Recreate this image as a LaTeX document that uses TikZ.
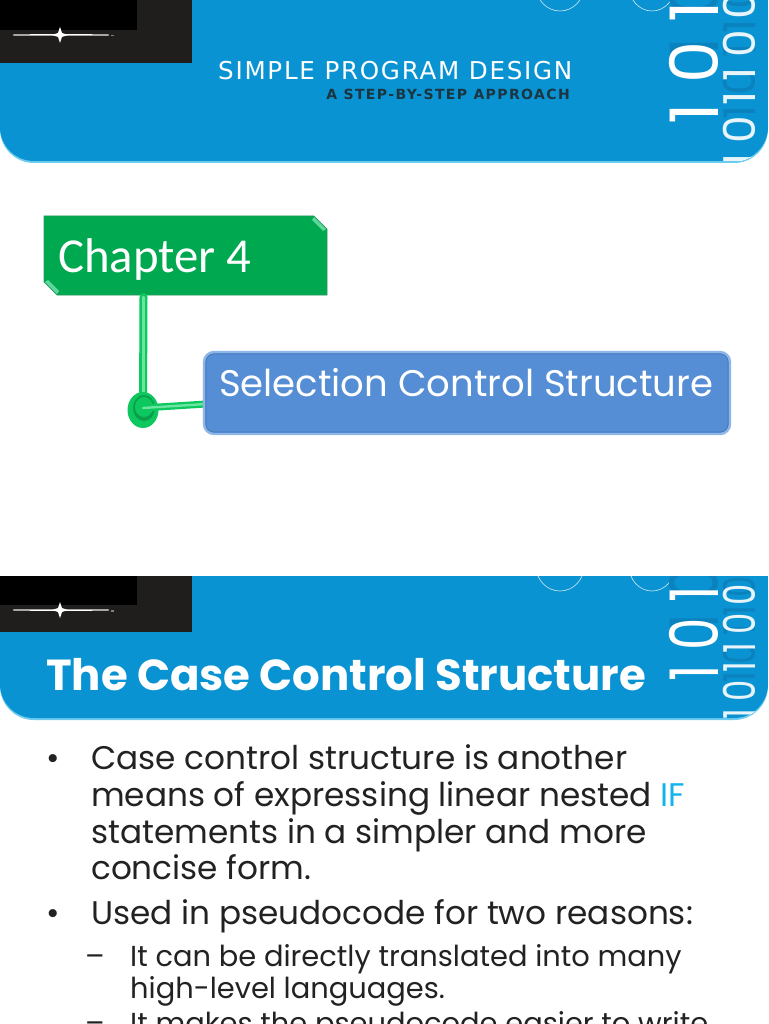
\documentclass[tikz,border=0pt]{standalone}
\usepackage{fontspec}
\setmainfont{Poppins}
\newfontfamily\calib{Carlito}
\newfontfamily\digitfont[LetterSpace=29]{Poppins}
\newfontfamily\smalldigit[LetterSpace=23]{Poppins}
\newfontfamily\techno[LetterSpace=7]{DejaVu Sans}
\newfontfamily\technosub[LetterSpace=10]{DejaVu Sans Bold}
\usetikzlibrary{calc}
\definecolor{banner}{HTML}{0A93D2}
\definecolor{bannerdark}{HTML}{1F1E1D}
\definecolor{bannerlight}{HTML}{6CCBEE}
\definecolor{digitshade}{HTML}{0A82BE}
\definecolor{chapgreen}{HTML}{00A84F}
\definecolor{chaplight}{HTML}{5FD69A}
\definecolor{linkgreen}{HTML}{0CC85E}
\definecolor{linklight}{HTML}{6BE59F}
\definecolor{boxblue}{HTML}{558ED5}
\definecolor{boxedge}{HTML}{8FB6E8}
\definecolor{ifcyan}{HTML}{12B5EA}
\definecolor{bodyink}{HTML}{222222}
\tikzset{
  bodytext/.style={anchor=base west,inner sep=0pt,text=bodyink,font=\fontsize{32.7}{32.7}\selectfont},
  subtext/.style={anchor=base west,inner sep=0pt,text=bodyink,font=\fontsize{28.9}{28.9}\selectfont},
  bigdigits/.style={anchor=base west,inner sep=0pt,rotate=90,font=\fontsize{67}{67}\selectfont\digitfont},
  smalldigits/.style={anchor=base west,inner sep=0pt,rotate=90,font=\fontsize{44}{44}\selectfont\smalldigit},
  linkouter/.style={line width=8pt,linkgreen,line cap=round},
  linkinner/.style={line width=2.4pt,linklight,line cap=round}
}
% #1 top, #2 bottom, #3 dark bottom, #4 black bottom, #5 star y, #6 circle y, #7 digit squeeze, #8 big start, #9 small start
\newcommand{\headerband}[9]{%
  \begin{scope}
    \clip (0,#1) rectangle (768,#2);
    \fill[bannerlight,rounded corners=34pt] (0,#1-60) rectangle (768,#2);
    \clip[rounded corners=34pt] (0,#1-60) rectangle (768,#2-2);
    \fill[banner] (0,#1) rectangle (768,#2);
    \fill[bannerdark] (0,#1) rectangle (192,#3);
    \fill[black] (0,#1) rectangle (136.5,#4);
    \draw[line width=2.6pt,gray!70,line cap=round] (14,#5) -- (108,#5);
    \draw[line width=1pt,white,line cap=round] (30,#5) -- (92,#5);
    \fill[white] (60,#5-8) -- (62,#5-2) -- (68,#5) -- (62,#5+2) -- (60,#5+8) -- (58,#5+2) -- (52,#5) -- (58,#5-2) -- cycle;
    \fill[gray] (111,#5) rectangle (114,#5+1.5);
    \draw[white!80!banner,line width=.6pt] (560,#6) ellipse[x radius=24,y radius=25];
    \draw[white!80!banner,line width=.6pt] (652,#6) ellipse[x radius=23,y radius=25];
    \node[smalldigits,text=digitshade] (shadesmall#1) at (755,#9-48*#7) {\scalebox{#7}[1]{101100}};
    \node[bigdigits,text=digitshade] (shadebig#1) at (718,#8-66*#7) {\scalebox{#7}[1]{1011}};
    \node[smalldigits,text=white!90!banner] (small#1) at (755,#9) {\scalebox{#7}[1]{101100}};
    \node[bigdigits,text=white] (big#1) at (718,#8) {\scalebox{#7}[1]{1011}};
  \end{scope}}
\begin{document}
\begin{tikzpicture}[x=1pt,y=-1pt]
\useasboundingbox (0,0) rectangle (768,1024);
\fill[white] (0,0) rectangle (768,1024);
\begin{scope}
\clip (0,0) rectangle (768,1024);
\headerband{0}{163}{63}{30}{35}{-14}{1}{125}{168}
\headerband{576}{720}{632}{605}{610}{566}{.77}{682}{720}

\node[anchor=base west,inner sep=0pt,text=white,font=\fontsize{24.6}{24.6}\selectfont\techno] (progtitle) at (218,80) {SIMPLE PROGRAM DESIGN};
\node[anchor=base east,inner sep=0pt,text=bannerdark!80!banner,font=\fontsize{14}{14}\selectfont\technosub] (progsub) at (570,100) {A STEP-BY-STEP APPROACH};

% chapter box
\draw[draw=chapgreen!70!gray,fill=chapgreen,line width=.6pt] (44,216) -- (314,216) -- (327,229) -- (327,295) -- (57,295) -- (44,282) -- cycle;
\fill[chaplight] (314,217) -- (326,229) -- (323,231) -- (312,220) -- cycle;
\fill[chaplight] (45,282) -- (57,294) -- (59,291) -- (48,280) -- cycle;
\coordinate (chapfoot) at (143.5,297);
\node[anchor=base west,inner sep=0pt,text=white,font=\fontsize{48.8}{48.8}\selectfont\calib] (chapter) at (58,272) {Chapter 4};

% connector
\coordinate (joint) at (143,408);
\coordinate (boxleft) at (206,404);
\draw[linkouter] (chapfoot) -- (joint);
\draw[linkinner] (chapfoot) -- (143.5,392);
\fill[linkgreen] (143,410) ellipse[x radius=15.5,y radius=18];
\fill[linkgreen!80!black] (144,408) ellipse[x radius=11,y radius=13];
\fill[linkgreen] (144,407) ellipse[x radius=9,y radius=10];
\draw[linkouter,line width=7pt] (joint) -- (boxleft);
\draw[linkinner] (joint) -- (boxleft);

% selection box
\draw[draw=boxedge,fill=boxblue,line width=2.4pt,rounded corners=10pt] (204,352) rectangle (730,434);
\draw[draw=boxblue!85!black,line width=.7pt,rounded corners=8pt] (206,354) rectangle (728,432);
\node[anchor=base west,inner sep=0pt,text=white,font=\fontsize{37}{37}\selectfont] (selection) at (219,396) {Selection Control Structure};

% slide title
\node[anchor=base west,inner sep=0pt,text=white,font=\fontsize{43.4}{43.4}\selectfont\bfseries] (casetitle) at (46,690) {The Case Control Structure};

% body
\node[bodytext] (b1) at (46,769) {•};
\node[bodytext] (l1) at (91,769) {Case control structure is another};
\node[bodytext] (l2) at (91,806) {means of expressing linear nested \textcolor{ifcyan}{IF}};
\node[bodytext] (l3) at (91,843) {statements in a simpler and more};
\node[bodytext] (l4) at (91,879) {concise form.};
\node[bodytext] (b2) at (46,924) {•};
\node[bodytext] (l5) at (91,924) {Used in pseudocode for two reasons:};
\node[subtext] (d1) at (85,966) {–};
\node[subtext] (l6) at (130,966) {It can be directly translated into many};
\node[subtext] (l7) at (130,998) {high-level languages.};
\node[subtext] (d2) at (85,1033) {–};
\node[subtext] (l8) at (130,1033) {It makes the pseudocode easier to write};
\end{scope}
\end{tikzpicture}
\end{document}
